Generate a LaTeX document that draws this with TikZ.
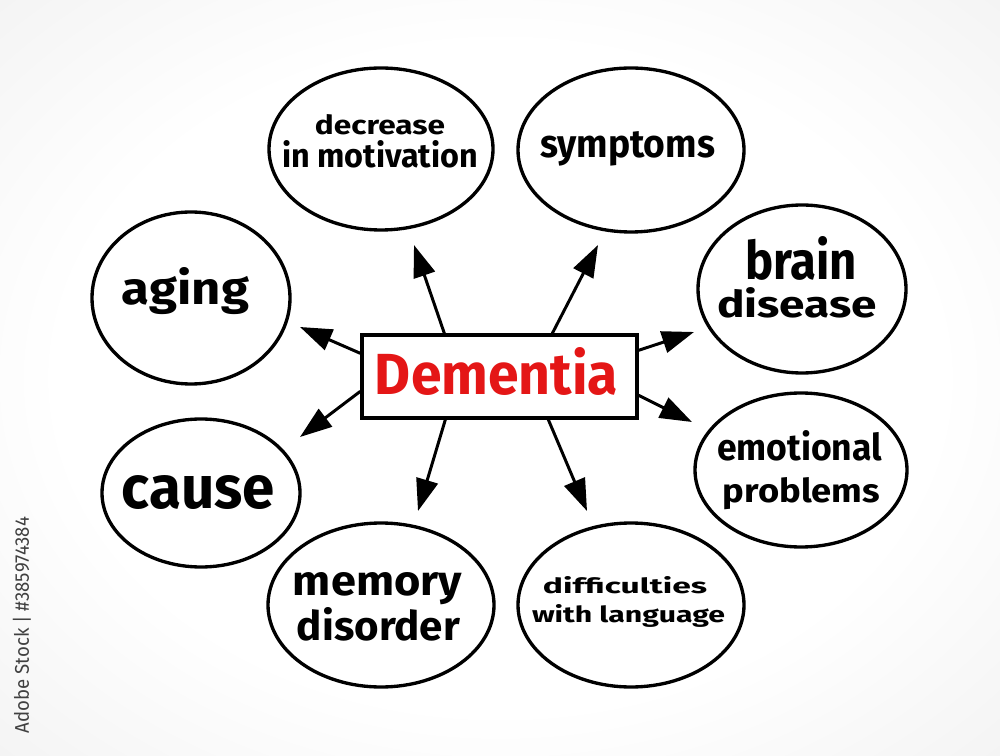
\documentclass[tikz,border=0pt]{standalone}
\usepackage{fontspec}
\setmainfont{Fira Sans}
\usetikzlibrary{arrows.meta,calc,shapes.geometric}
\newlength\pxu
\setlength\pxu{0.02cm}
\newcommand\hw[3]{\resizebox{#1\pxu}{#2\pxu}{#3}}
\definecolor{demred}{RGB}{228,22,22}
\pgfdeclareradialshading{bgshade}{\pgfpoint{0bp}{0bp}}{color(0bp)=(white); color(22bp)=(white); color(50bp)=(black!9); color(72bp)=(black!17)}
\begin{document}
\begin{tikzpicture}[x=0.02cm,y=-0.02cm,
  bubble/.style={draw=black,line width=1.9pt,ellipse,inner sep=0pt},
  centerbox/.style={draw=black,line width=1.9pt,fill=white,rectangle,inner sep=0pt,minimum width=275\pxu,minimum height=83\pxu},
  word/.style={inner sep=0pt,anchor=base,font=\bfseries},
  thinword/.style={inner sep=0pt,anchor=base,font=\bfseries},
  link/.style={line width=1.7pt,-{Triangle[length=0.64cm,width=0.44cm]}}]
\useasboundingbox (0,0) rectangle (1000,756);
\shade[shading=bgshade] (0,0) rectangle (1000,756);
% watermark
\node[rotate=90,inner sep=0pt,text=black!75,font=\mdseries] (wm) at (22,625) {\hw{216}{16}{Adobe Stock | \#385974384}};
% bubbles
\node[bubble,minimum width=224\pxu,minimum height=162\pxu] (dec) at (381,149) {};
\node[bubble,minimum width=226\pxu,minimum height=164\pxu] (sym) at (631,150) {};
\node[bubble,minimum width=208\pxu,minimum height=168\pxu] (bra) at (802,289) {};
\node[bubble,minimum width=212\pxu,minimum height=154\pxu] (emo) at (801,470) {};
\node[bubble,minimum width=226\pxu,minimum height=164\pxu] (dif) at (631,605) {};
\node[bubble,minimum width=226\pxu,minimum height=164\pxu] (mem) at (381,605) {};
\node[bubble,minimum width=198\pxu,minimum height=148\pxu] (cau) at (201,493) {};
\node[bubble,minimum width=198\pxu,minimum height=172\pxu] (agi) at (191,298) {};
% central box
\node[centerbox] (dem) at (499.5,376.5) {};
\node[word,text=demred] (demtxt) at (496.5,395) {\hw{243}{47}{Dementia}};
% words
\node[thinword] (w1a) at (380,135) {\hw{130}{20}{decrease}};
\node[thinword] (w1b) at (380,168) {\hw{196}{27}{in motivation}};
\node[word] (w2) at (627.5,158) {\hw{175}{26}{symptoms}};
\node[word] (w3a) at (801,280) {\hw{112}{43}{brain}};
\node[word] (w3b) at (797,318) {\hw{160}{30}{disease}};
\node[word] (w4a) at (799.5,460) {\hw{165}{30}{emotional}};
\node[word] (w4b) at (801.5,502) {\hw{157}{25}{problems}};
\node[thinword] (w5a) at (625,593) {\hw{164}{17}{difficulties}};
\node[thinword] (w5b) at (628.5,622) {\hw{193}{18}{with language}};
\node[word] (w6a) at (377.5,595) {\hw{169}{23}{memory}};
\node[word] (w6b) at (378.5,640) {\hw{163}{33}{disorder}};
\node[word] (w7) at (198.5,508) {\hw{153}{33}{cause}};
\node[word] (w8) at (185.5,305) {\hw{127}{37}{aging}};
% arrow start points on the box border
\coordinate (s1) at ($(dem.north west)+(84,0)$);
\coordinate (s2) at ($(dem.north west)+(192,0)$);
\coordinate (s3) at ($(dem.north east)+(0,17)$);
\coordinate (s4) at ($(dem.north east)+(0,62)$);
\coordinate (s5) at ($(dem.south west)+(85,0)$);
\coordinate (s6) at ($(dem.south west)+(188,0)$);
\coordinate (s7) at ($(dem.north west)+(0,20)$);
\coordinate (s8) at ($(dem.north west)+(0,58)$);
% arrow tips
\coordinate (t1) at (414,245);
\coordinate (t2) at (598,245);
\coordinate (t3) at (694,332);
\coordinate (t4) at (692,422);
\coordinate (t5) at (418,511);
\coordinate (t6) at (587,511);
\coordinate (t7) at (300,327);
\coordinate (t8) at (300,437);
\foreach \i in {1,...,8} \draw[link] (s\i) -- (t\i);
\end{tikzpicture}
\end{document}
